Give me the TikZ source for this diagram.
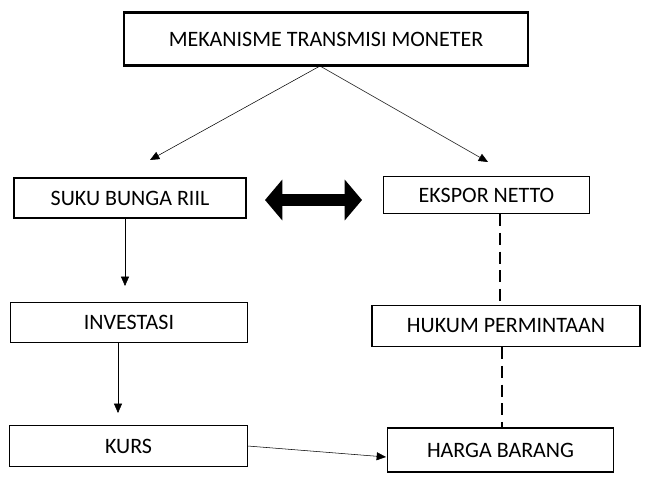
\documentclass[tikz,border=0pt]{standalone}
\usepackage{fontspec}
\setmainfont{Carlito}
\usetikzlibrary{arrows.meta}
\tikzset{
  box/.style={draw,thick,minimum height=30pt,inner sep=0pt,font=\fontsize{16.5}{18}\selectfont},
  link/.style={-{Triangle[length=7pt,width=6pt]},thin},
  dashlink/.style={thick,dash pattern=on 9pt off 5pt},
  bigarrow/.style={line width=9pt,{Triangle[length=13pt,width=30pt]}-{Triangle[length=13pt,width=30pt]}}
}
\begin{document}
\begin{tikzpicture}[x=0.75pt,y=-0.75pt]
  \useasboundingbox (0,0) rectangle (645,482);
  % boxes
  \node[box,line width=2.2pt,minimum width=303pt,minimum height=40pt] (top) at (326,39) {MEKANISME TRANSMISI MONETER};
  \node[box,minimum width=174pt] (suku) at (130,198) {SUKU BUNGA RIIL};
  \node[box,minimum width=155pt,minimum height=28pt] (ekspor) at (486.5,195) {EKSPOR NETTO};
  \node[box,minimum width=178pt] (inv) at (129,322.5) {INVESTASI};
  \node[box,minimum width=201pt,minimum height=31pt] (hukum) at (506,326) {HUKUM PERMINTAAN};
  \node[box,minimum width=178pt,minimum height=31pt] (kurs) at (128.5,446) {KURS};
  \node[box,minimum width=169pt,minimum height=33pt] (harga) at (500.5,450) {HARGA BARANG};
  % connectors
  \coordinate (t1) at (320,66);
  \draw[link] (t1) -- (150,160);
  \draw[link] (t1) -- (488,162);
  \draw[link] (suku.south -| 125,0) -- (125,286);
  \draw[link] (inv.south -| 118,0) -- (118,413);
  \draw[link] (kurs.east |- 0,446) -- (386,457);
  \draw[dashlink] (ekspor.south -| 500,0) -- (hukum.north -| 500,0);
  \draw[dashlink] (hukum.south -| 502,0) -- (harga.north -| 502,0);
  \coordinate (d1) at (265,200);
  \coordinate (d2) at (362,200);
  \draw[bigarrow] (d1) -- (d2);
\end{tikzpicture}
\end{document}
